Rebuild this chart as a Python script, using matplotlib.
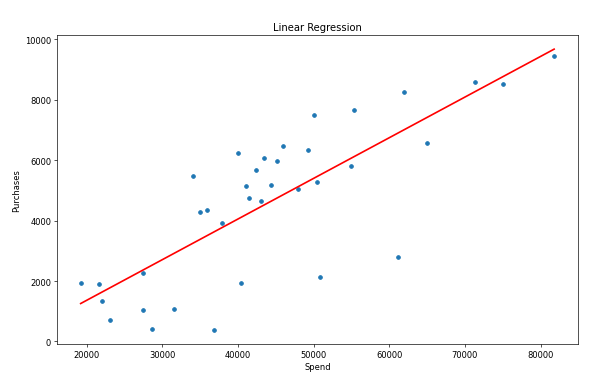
import matplotlib
matplotlib.use('Agg')
import matplotlib.pyplot as plt
import numpy as np

spend = [19200, 21600, 22000, 23100, 27500, 27400, 28600, 31500, 34000, 35000,
         35900, 36800, 37900, 40000, 40400, 41000, 41400, 42400, 43000, 43400,
         44300, 45100, 45900, 47900, 49300, 50000, 50400, 50800, 55000, 55300,
         61200, 62000, 65000, 71400, 75100, 81800]
purchases = [1950, 1900, 1350, 700, 2250, 1030, 400, 1060, 5480, 4270,
             4350, 380, 3930, 6250, 1950, 5150, 4760, 5680, 4640, 6080,
             5180, 5960, 6460, 5040, 6330, 7490, 5280, 2130, 5800, 7650,
             2800, 8270, 6580, 8590, 8520, 9440]

x = np.array(spend)
y = np.array(purchases)
slope, intercept = np.polyfit(x, y, 1)
xs = np.array([x.min(), x.max()])

fig = plt.figure(figsize=(10, 6.3333), dpi=60)
ax = fig.subplots()
ax.scatter(x, y, s=20)
ax.plot(xs, slope * xs + intercept, color='red', linewidth=2)
ax.set_xlabel('Spend')
ax.set_ylabel('Purchases')
ax.set_title('Linear Regression')
fig.subplots_adjust(left=0.095, right=0.963, top=0.905, bottom=0.092)
fig.savefig('out.png', dpi=60)
